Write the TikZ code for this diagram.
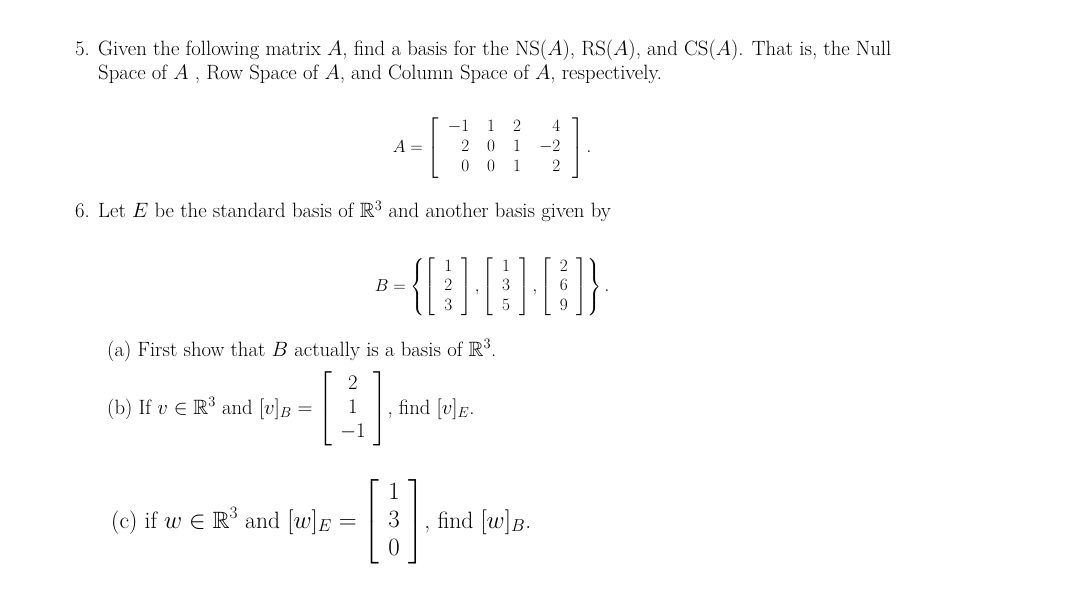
\documentclass[tikz,border=0pt]{standalone}
\usepackage{amsmath,amssymb}
\begin{document}
\begin{tikzpicture}[x=1pt,y=-1pt,
  txt/.style={anchor=base west,inner sep=0pt,font=\fontsize{20.7}{24}\selectfont},
  mat/.style={inner sep=0pt,font=\fontsize{17}{20}\selectfont},
  big/.style={anchor=base west,inner sep=0pt,font=\fontsize{23.6}{28}\selectfont}]
\useasboundingbox (0,0) rectangle (1074,612);
\node[txt] (l1) at (75,56) {5. Given the following matrix $A$, find a basis for the NS($A$), RS($A$), and CS($A$). That is, the Null};
\node[txt] (l2) at (98,80) {Space of $A$ , Row Space of $A$, and Column Space of $A$, respectively.};
\node[mat] (ma) at (492,148) {$A=\left[\arraycolsep=9pt\begin{array}{rrrr}-1&1&2&4\\2&0&1&-2\\0&0&1&2\end{array}\,\right].$};
\node[txt] (l6) at (75,218) {6. Let $E$ be the standard basis of $\mathbb{R}^3$ and another basis given by};
\node[mat,font=\fontsize{16}{19.5}\selectfont] (mb) at (492,287) {$B=\left\{\left[\arraycolsep=9pt\begin{array}{c}1\\2\\3\end{array}\right],\left[\arraycolsep=9pt\begin{array}{c}1\\3\\5\end{array}\right],\left[\arraycolsep=9pt\begin{array}{c}2\\6\\9\end{array}\right]\right\}.$};
\node[txt] (la) at (107,356) {(a) First show that $B$ actually is a basis of $\mathbb{R}^3$.};
\node[txt] (lb) at (107,414) {(b) If $v\in\mathbb{R}^3$ and $[v]_B=\left[\arraycolsep=8pt\begin{array}{c}2\\1\\-1\end{array}\right]$, find $[v]_E$.};
\node[big] (lc) at (111,528) {(c) if $w\in\mathbb{R}^3$ and $[w]_E=\left[\arraycolsep=9pt\begin{array}{c}1\\3\\0\end{array}\right]$, find $[w]_B$.};
\end{tikzpicture}
\end{document}
